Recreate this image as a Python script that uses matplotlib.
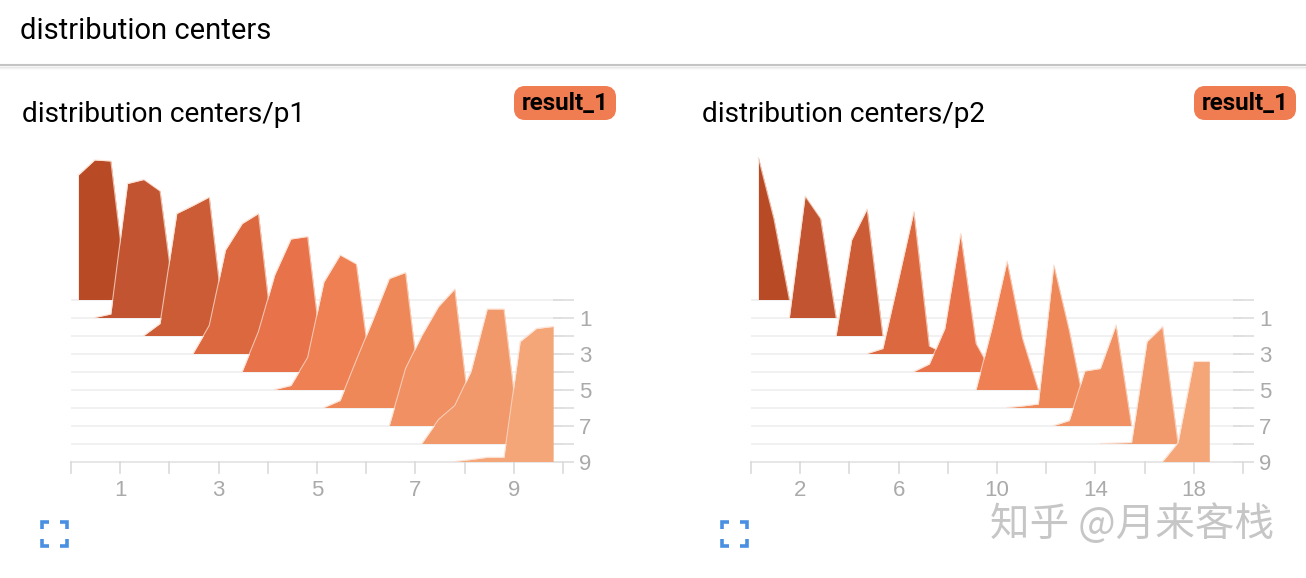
import matplotlib
matplotlib.use('Agg')
import matplotlib.pyplot as plt
from matplotlib.patches import FancyBboxPatch

W, H = 1306, 578

# bin centers of each histogram
p1_centers = [0.15, 0.48, 0.81, 1.15, 1.48, 1.81, 2.15, 2.48, 2.81, 3.14,
              3.48, 3.81, 4.14, 4.47, 4.81, 5.14, 5.47, 5.80, 6.14, 6.47,
              6.80, 7.13, 7.47, 7.80, 8.13, 8.46, 8.80, 9.13, 9.46, 9.80]
p2_centers = [0.30, 0.93, 1.56, 2.20, 2.83, 3.46, 4.09, 4.72, 5.36, 5.99,
              6.62, 7.25, 7.88, 8.52, 9.15, 9.78, 10.41, 11.04, 11.68, 12.31,
              12.94, 13.57, 14.20, 14.84, 15.47, 16.10, 16.73, 17.36, 18.00, 18.63]

# first occupied bin of each step, then the heights from that bin on
p1_first = [0, 1, 4, 7, 10, 12, 15, 19, 21, 23]
p1_heights = [
    [124.5, 139.5, 138.5, 0],
    [0, 3.5, 134, 138, 126.5, 0],
    [0, 12, 122, 130, 138.5, 0],
    [0, 28, 103.5, 130, 140, 0],
    [0, 40, 96.5, 132.5, 135, 0],
    [0, 4, 32, 107.5, 134.5, 125.5, 0],
    [0, 7, 47.5, 88, 129, 135, 0],
    [0, 57, 90, 119, 136.5, 0],
    [0, 24, 38, 72, 134.5, 134.5, 0],
    [0, 2, 4.2, 4.2, 120, 133, 135],
]

p2_first = [0, 2, 5, 7, 10, 14, 16, 19, 22, 26]
p2_heights = [
    [142, 81, 0],
    [0, 121.5, 99, 0],
    [0, 95.5, 126.5, 0],
    [0, 5, 73, 142, 7.5, 0],
    [0, 7.5, 43, 138, 28, 0],
    [0, 60, 128.5, 51, 0],
    [0, 1.5, 3.5, 142.5, 77, 0],
    [0, 5, 54.5, 57, 100.5, 0],
    [0, 0.5, 1, 102, 117, 0],
    [0, 19, 100, 100],
]

ridge_colors = ['#b84a26', '#c25431', '#cc5c36', '#dc6840', '#e8734b',
                '#ee8053', '#ef8859', '#f09063', '#f2996c', '#f4a679']

rows = list(range(10))
row_labels = [1, 3, 5, 7, 9]
p1_xticks = list(range(0, 11))
p1_xlabels = [1, 3, 5, 7, 9]
p2_xticks = list(range(0, 21, 2))
p2_xlabels = [2, 6, 10, 14, 18]

ridge_scale = 1 / 18
grid_color = '#eeeeee'
tick_color = '#dadada'
label_color = '#aaaaaa'


def draw_panel(left, centers, first, heights, xticks, xlabels):
    # axes span the x ticks and run from above the tallest ridge down to the last row
    top_px, bottom_px = 150, 461.5
    ax = fig.add_axes([left / W, 1 - bottom_px / H, 492 / W, (bottom_px - top_px) / H])
    ax.set_xlim(xticks[0], xticks[-1])
    ax.set_ylim(9, 9 - (bottom_px - top_px) / 18)
    ax.axis('off')

    x_unit = (xticks[-1] - xticks[0]) / 492

    for row in rows:
        ax.plot([xticks[0], xticks[-1]], [row, row], color=grid_color, lw=1.1,
                clip_on=False, zorder=1, solid_capstyle='butt')
        ax.plot([xticks[-1] - 10 * x_unit, xticks[-1] + 11 * x_unit], [row, row], color=tick_color,
                lw=1.1, clip_on=False, zorder=1, solid_capstyle='butt')

    ax.plot([xticks[0], xticks[-1]], [9, 9], color='#e4e4e4', lw=1.1, clip_on=False, zorder=1)
    for t in xticks:
        ax.plot([t, t], [9, 9 + 11.5 / 18], color=tick_color, lw=1.2, clip_on=False, zorder=1)

    for t in xlabels:
        ax.text(t, 9 + 28.5 / 18, str(t), color=label_color, fontsize=16, ha='center',
                va='center', family='Liberation Sans', clip_on=False)
    for r in row_labels:
        ax.text(xticks[-1] + 16 * x_unit, r + 3 / 18, str(r), color=label_color, fontsize=16, ha='left',
                va='center', family='Liberation Sans', clip_on=False)

    # later steps sit in front of earlier ones
    for i, row in enumerate(rows):
        h = heights[i]
        x = centers[first[i]:first[i] + len(h)]
        y = [row - v * ridge_scale for v in h]
        ax.fill_between(x, [row] * len(h), y, color=ridge_colors[i], lw=0, zorder=2 + i)
        ax.plot(x, y, color='#fbdccb', lw=0.8, alpha=0.8, zorder=2 + i, clip_on=False)


def draw_card(left, title, badge_left):
    chrome.text(left + 22, 114, title, fontsize=20.15, va='center', family='Roboto', color='black')
    badge = FancyBboxPatch((badge_left + 5, 91), 92, 24, boxstyle='round,pad=0,rounding_size=6',
                           mutation_aspect=1, fc='#f07c52', ec='#f07c52', lw=10 * 0.72)
    chrome.add_patch(badge)
    chrome.text(badge_left + 51, 103.5, 'result_1', fontsize=17.4, fontweight='bold', ha='center',
                va='center', family='Roboto', color='black', zorder=5)

    # expand icon, four corner brackets
    x0, x1 = left + 42, left + 66.5
    y0, y1 = 522, 545.5
    arm = 7
    for cx, sx in ((x0, 1), (x1, -1)):
        for cy, sy in ((y0, 1), (y1, -1)):
            chrome.plot([cx + sx * arm, cx, cx], [cy, cy, cy + sy * arm], color='#4a90e2', lw=2.6,
                        solid_joinstyle='miter', solid_capstyle='butt')


fig = plt.figure(figsize=(W / 100, H / 100), dpi=100, facecolor='white')

# full size axes in pixel coordinates for the page furniture
chrome = fig.add_axes([0, 0, 1, 1])
chrome.set_xlim(0, W)
chrome.set_ylim(H, 0)
chrome.axis('off')

chrome.text(20, 31, 'distribution centers', fontsize=21, va='center', family='Roboto', color='black')
chrome.plot([0, W], [65, 65], color='#c4c4c4', lw=1.5)
for offset, shade in ((1.5, '#e6e6e6'), (2.5, '#f2f2f2'), (3.5, '#fafafa')):
    chrome.plot([0, W], [65 + offset, 65 + offset], color=shade, lw=1)

draw_card(0, 'distribution centers/p1', 514)
draw_card(680, 'distribution centers/p2', 1194)

draw_panel(71, p1_centers, p1_first, p1_heights, p1_xticks, p1_xlabels)
draw_panel(751, p2_centers, p2_first, p2_heights, p2_xticks, p2_xlabels)

chrome.text(990, 525, '知乎 @月来客栈', fontsize=28.5, va='center', color='#c6c6c6',
            family=['Noto Sans CJK SC', 'DejaVu Sans'])

fig.savefig('out.png', dpi=100)
